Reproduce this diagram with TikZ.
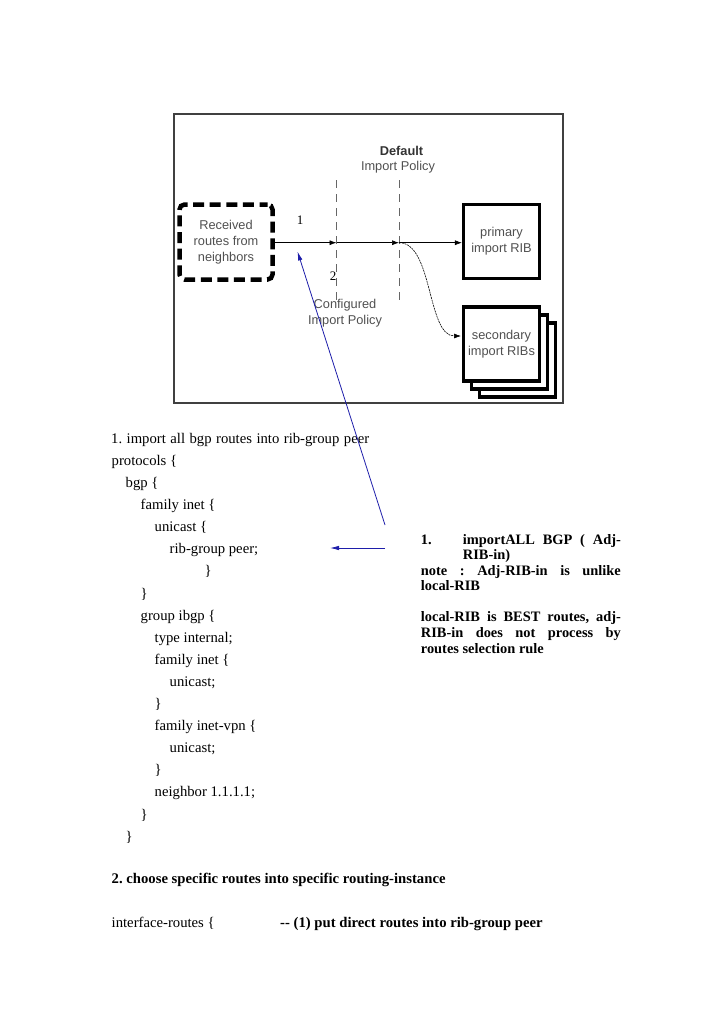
\documentclass[tikz,border=0pt]{standalone}
\usepackage{fontspec}
\setmainfont{Liberation Serif}
\newfontfamily\arial{Liberation Sans}
\usetikzlibrary{arrows.meta}
\definecolor{noteblue}{RGB}{30,30,170}
\definecolor{diaggray}{RGB}{80,80,80}
\frenchspacing
\begin{document}
\begin{tikzpicture}[x=1pt,y=-1pt,
  code/.style={anchor=base west, inner sep=0pt, font=\fontsize{14.7}{17}\selectfont},
  codeb/.style={code, font=\bfseries\fontsize{14.7}{17}\selectfont},
  note/.style={anchor=base west, inner sep=0pt, font=\bfseries\fontsize{14.4}{15}\selectfont},
  diag/.style={font=\arial\fontsize{12.8}{16}\selectfont, text=diaggray, align=center, inner sep=0pt},
  num/.style={font=\fontsize{13}{15}\selectfont, inner sep=0pt},
  rib/.style={draw, line width=3.2pt, fill=white, minimum width=76pt, minimum height=74pt, inner sep=0pt},
  flow/.style={line width=0.6pt, -{Latex[length=7pt,width=5pt]}},
  policy/.style={draw=black!60, line width=0.6pt, dash pattern=on 8pt off 6pt},
  pointer/.style={draw=noteblue, line width=0.8pt, -{Latex[length=9pt,width=4.5pt]}}
]
\useasboundingbox (0,0) rectangle (728,1031);

% frame
\node[draw=black!75, line width=1.1pt, minimum width=389pt, minimum height=289pt, inner sep=0pt] (frame) at (368.5,258.5) {};

% received routes
\node[draw, line width=4.5pt, dash pattern=on 11pt off 5.6pt, dash phase=3pt, rounded corners=5pt,
      minimum width=93pt, minimum height=75pt, inner sep=0pt,
      font=\arial\fontsize{12.8}{16}\selectfont, text=diaggray, align=center] (recv) at (226,242)
      {Received\\routes from\\neighbors};

% RIBs
\node[rib] (primary) at (501.5,241.5) {};
\node[diag] (primarytxt) at (501.5,241) {primary\\import RIB};
\node[rib] (sec3) at (517.5,360) {};
\node[rib] (sec2) at (509.5,352) {};
\node[rib] (sec1) at (501.5,344) {};
\node[diag] (sectxt) at (501.5,344) {secondary\\import RIBs};

% policy lines
\coordinate (d1t) at (336.5,180);
\coordinate (d1b) at (336.5,304);
\coordinate (d2t) at (399,180);
\coordinate (d2b) at (399,304);
\draw[policy] (d1t) -- (d1b);
\draw[policy] (d2t) -- (d2b);

\node[diag, font=\arial\bfseries\fontsize{12.8}{16}\selectfont, text=black!80] (default) at (401.5,150.5) {Default};
\node[diag] (defimp) at (398,167.5) {Import Policy};
\node[diag] (conf) at (345,313) {Configured\\Import Policy};

% flow arrows
\coordinate (c1) at (336.5,242.7);
\coordinate (c2) at (399,242.7);
\coordinate (s1) at (461,336);
\draw[flow] (recv.east |- c1) -- (c1);
\draw[flow] (c1) -- (c2);
\draw[flow] (c2) -- (primary.west |- c2);
\draw[line width=0.6pt, dash pattern=on 2pt off 0.8pt, -{Latex[length=7pt,width=5pt]}]
  (c2) .. controls (433,242.7) and (427,336) .. (s1);

\node[num] (n1) at (300,220) {1};
\node[num] (n2) at (333,276.5) {2};

% code
\node[code] (l0) at (111,443.3) {\makebox[258pt][s]{1. import all bgp routes into rib-group peer}};
\node[code] (l1) at (111.5,465.4) {protocols \{};
\node[code] (l2) at (125.5,487.5) {bgp \{};
\node[code] (l3) at (140.5,509.6) {family inet \{};
\node[code] (l4) at (154.5,531.7) {unicast \{};
\node[code] (l5) at (169.5,553.8) {rib-group peer;};
\node[code] (l6) at (204.5,575.9) {\}};
\node[code] (l7) at (140.5,598.0) {\}};
\node[code] (l8) at (140.5,620.1) {group ibgp \{};
\node[code] (l9) at (154.5,642.2) {type internal;};
\node[code] (l10) at (154.5,664.3) {family inet \{};
\node[code] (l11) at (169.5,686.4) {unicast;};
\node[code] (l12) at (154.5,708.5) {\}};
\node[code] (l13) at (154.5,730.6) {family inet-vpn \{};
\node[code] (l14) at (169.5,752.7) {unicast;};
\node[code] (l15) at (154.5,774.8) {\}};
\node[code] (l16) at (154.5,796.9) {neighbor 1.1.1.1;};
\node[code] (l17) at (140.5,819.0) {\}};
\node[code] (l18) at (125.5,841.1) {\}};

\node[codeb] (h2) at (111.5,883.3) {2. choose specific routes into specific routing-instance};
\node[code] (ir) at (111.5,927.3) {interface-routes \{};
\node[codeb] (ircomment) at (280,927.3) {-{}- (1) put direct routes into rib-group peer};

% note
\node[note] (m1) at (420.7,544) {1.};
\node[note] (m2) at (462.7,544) {\makebox[158pt][s]{importALL BGP ( Adj-}};
\node[note] (m3) at (462.7,559.5) {RIB-in)};
\node[note] (m4) at (420.7,575) {\makebox[200pt][s]{note : Adj-RIB-in is unlike}};
\node[note] (m5) at (420.7,590.6) {local-RIB};
\node[note] (m6) at (420.7,621.7) {\makebox[200pt][s]{local-RIB is BEST routes, adj-}};
\node[note] (m7) at (420.7,637.3) {\makebox[200pt][s]{RIB-in does not process by}};
\node[note] (m8) at (420.7,653) {routes selection rule};

% pointers
\coordinate (p1s) at (385,525);
\coordinate (p1e) at (297.5,251.5);
\coordinate (p2s) at (385,548);
\coordinate (p2e) at (330,548);
\draw[pointer] (p1s) -- (p1e);
\draw[pointer] (p2s) -- (p2e);
\end{tikzpicture}
\end{document}
